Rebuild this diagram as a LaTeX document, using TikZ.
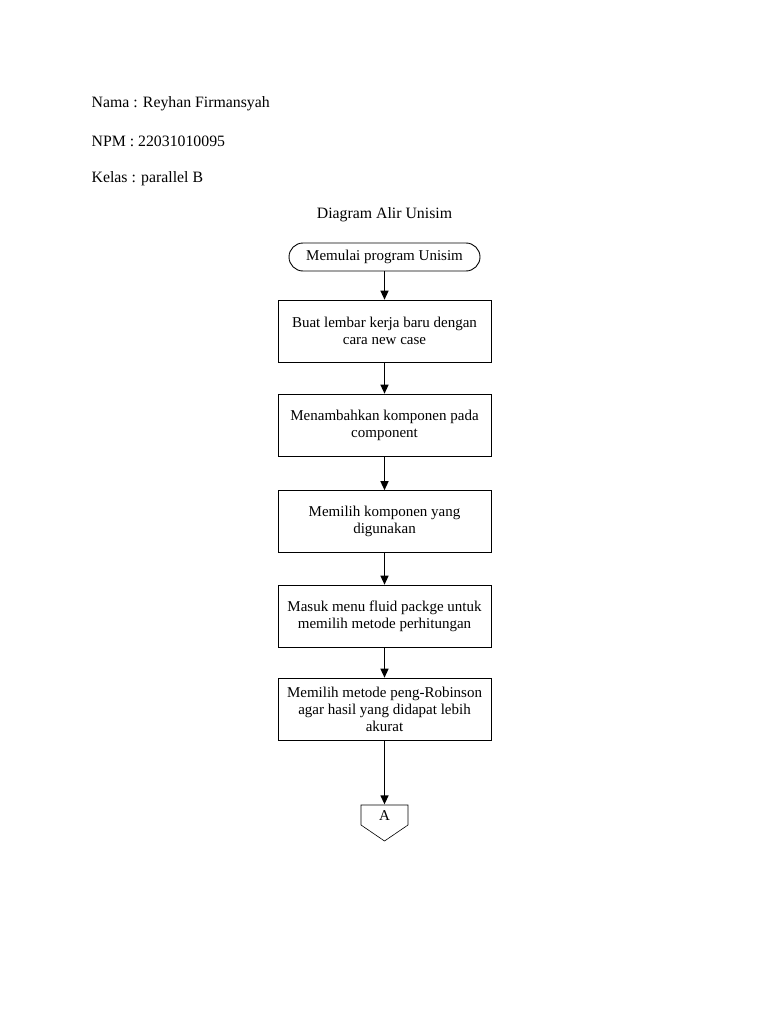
\documentclass[tikz,border=0pt]{standalone}
\usepackage{fontspec}
\setmainfont{Liberation Serif}
\usepackage{tikz}
\usetikzlibrary{arrows.meta}

\begin{document}
\begin{tikzpicture}[x=1pt, y=-1pt, >={Triangle[length=9pt, width=8pt]}, line width=1.3pt,
        every node/.style={font=\fontsize{15}{17}\selectfont},
        headtext/.style={anchor=west, inner sep=0pt, font=\fontsize{15.8}{18}\selectfont},
        stepbox/.style={draw, line width=0.6pt, minimum width=213pt, minimum height=62pt, align=center, inner sep=2pt},
        startbox/.style={draw, line width=0.9pt, rounded corners=14pt, minimum width=191pt, minimum height=28pt}]

        \useasboundingbox (0,0) rectangle (768,1024);

        % ====================
        % 1. Header
        % ====================
        \node[headtext] (nama) at (91, 104) {Nama : Reyhan Firmansyah};
        \node[headtext] (npm) at (91, 141) {NPM : 22031010095};
        \node[headtext] (kelas) at (91, 179) {Kelas : parallel B};
        \node[font=\fontsize{15.8}{18}\selectfont] (judul) at (384.5, 215) {Diagram Alir Unisim};

        % ====================
        % 2. Flow steps
        % ====================
        \node[startbox] (mulai) at (384.5, 257) {Memulai program Unisim};
        \node[stepbox] (buat) at (384.5, 331) {Buat lembar kerja baru dengan\\cara new case};
        \node[stepbox] (tambah) at (384.5, 425) {Menambahkan komponen pada\\component};
        \node[stepbox] (pilih) at (384.5, 521.5) {Memilih komponen yang\\digunakan};
        \node[stepbox] (fluid) at (384.5, 616) {Masuk menu fluid packge untuk\\memilih metode perhitungan};
        \node[stepbox] (metode) at (384.5, 709) {Memilih metode peng-Robinson\\agar hasil yang didapat lebih\\akurat};

        % off-page connector
        \node[minimum width=47pt, minimum height=22pt, inner sep=0pt] (A) at (384.5, 816) {A};
        \draw[line width=0.6pt] (361,805) -- (408,805) -- (408,825) -- (384.5,841) -- (361,825) -- cycle;

        % ====================
        % 3. Arrows
        % ====================
        \draw[->] (mulai) -- (buat);
        \draw[->] (buat) -- (tambah);
        \draw[->] (tambah) -- (pilih);
        \draw[->] (pilih) -- (fluid);
        \draw[->] (fluid) -- (metode);
        \draw[->] (metode) -- (A);

    \end{tikzpicture}
\end{document}
